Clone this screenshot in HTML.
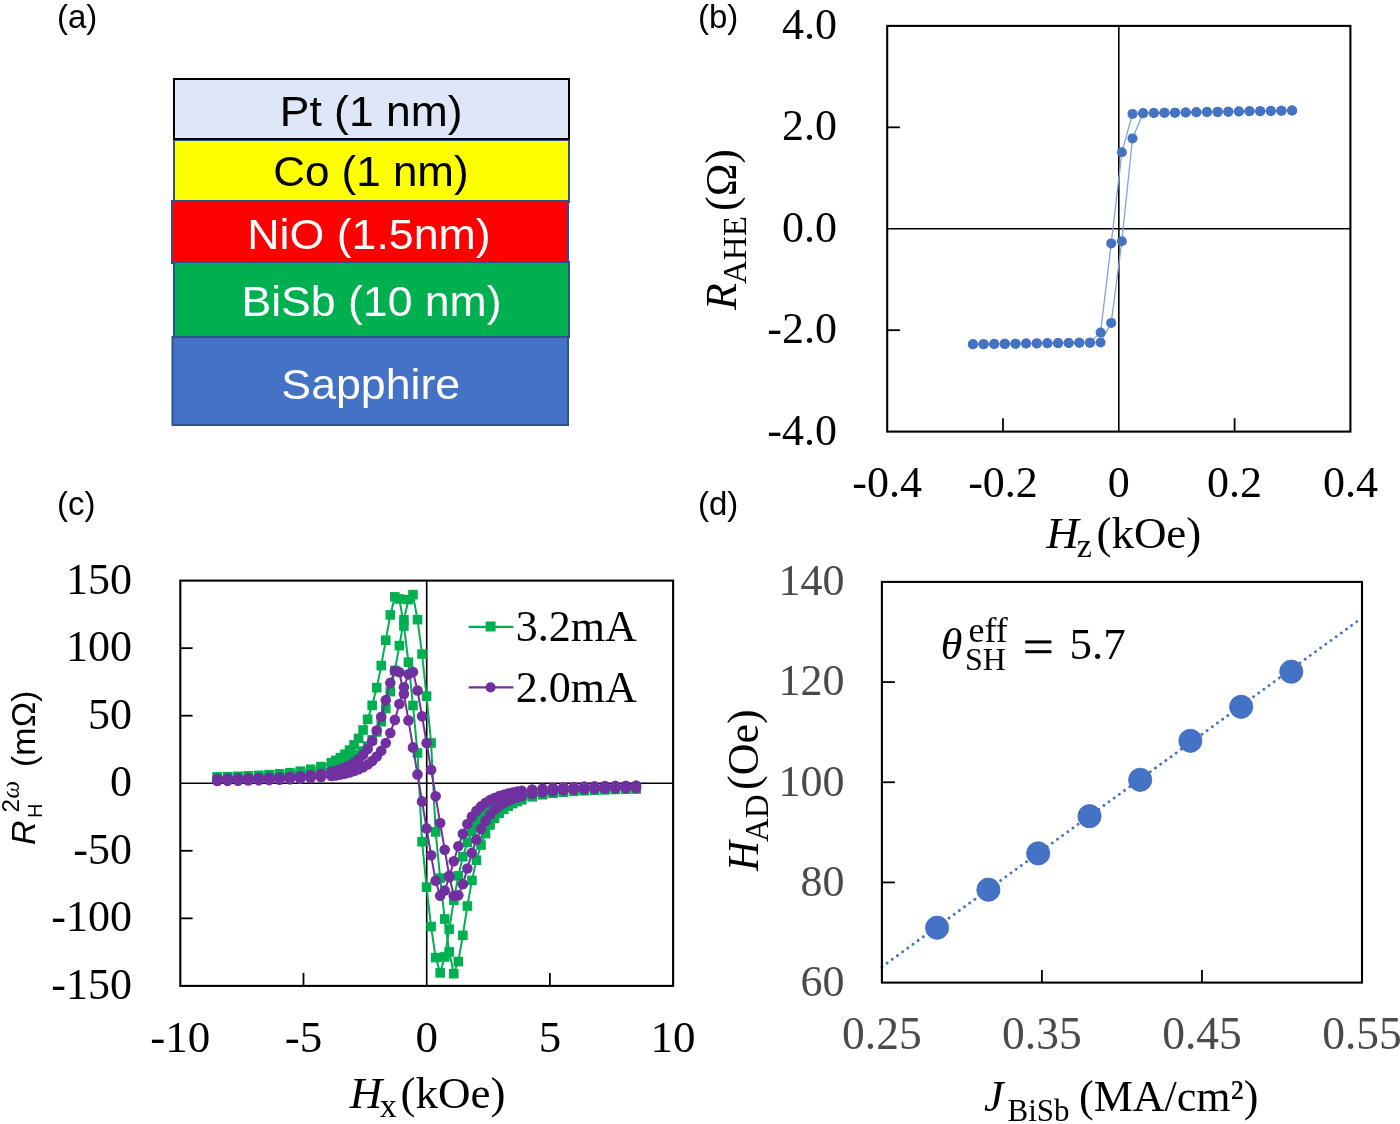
<!DOCTYPE html>
<html><head><meta charset="utf-8"><title>Figure</title>
<style>html,body{margin:0;padding:0;background:#fff;}svg{display:block;will-change:transform;}</style></head>
<body><svg width="1400" height="1124" viewBox="0 0 1400 1124">
<rect width="1400" height="1124" fill="#fff"/>
<text x="57" y="28" font-family='"Liberation Sans", sans-serif' font-size="33" fill="#000">(a)</text>
<rect x="174" y="140" width="395" height="62" fill="#FFFF00" stroke="#2F528F" stroke-width="2"/>
<rect x="172" y="201" width="396" height="62" fill="#FF0000" stroke="#2F528F" stroke-width="2"/>
<rect x="174" y="262" width="395" height="75" fill="#00B050" stroke="#2F528F" stroke-width="2"/>
<rect x="172.5" y="337" width="395.5" height="88" fill="#4472C4" stroke="#2F528F" stroke-width="2"/>
<rect x="174" y="79" width="395" height="60" fill="#DEE7F7" stroke="#000" stroke-width="2"/>
<text transform="translate(371.2,125.5) scale(1.035,1)" text-anchor="middle" font-family='"Liberation Sans", sans-serif' font-size="43" fill="#000">Pt (1 nm)</text>
<text transform="translate(370.9,185.5) scale(1.023,1)" text-anchor="middle" font-family='"Liberation Sans", sans-serif' font-size="43" fill="#000">Co (1 nm)</text>
<text transform="translate(369.0,248.6) scale(1.04,1)" text-anchor="middle" font-family='"Liberation Sans", sans-serif' font-size="43" fill="#fff">NiO (1.5nm)</text>
<text transform="translate(371.5,315.6) scale(1.037,1)" text-anchor="middle" font-family='"Liberation Sans", sans-serif' font-size="43" fill="#fff">BiSb (10 nm)</text>
<text transform="translate(370.75,398.65) scale(1.039,1)" text-anchor="middle" font-family='"Liberation Sans", sans-serif' font-size="43" fill="#fff">Sapphire</text>
<text x="698" y="28" font-family='"Liberation Sans", sans-serif' font-size="33" fill="#000">(b)</text>
<line x1="887.2" y1="228.75" x2="1350.4" y2="228.75" stroke="#000" stroke-width="1.6"/>
<line x1="1118.8" y1="25.9" x2="1118.8" y2="431.6" stroke="#000" stroke-width="1.6"/>
<line x1="887.2" y1="330.18" x2="899.9000000000001" y2="330.18" stroke="#000" stroke-width="1.8"/>
<line x1="887.2" y1="127.32" x2="899.9000000000001" y2="127.32" stroke="#000" stroke-width="1.8"/>
<line x1="1003" y1="431.6" x2="1003" y2="418.20000000000005" stroke="#000" stroke-width="1.8"/>
<line x1="1234.6" y1="431.6" x2="1234.6" y2="418.20000000000005" stroke="#000" stroke-width="1.8"/>
<rect x="887.2" y="25.9" width="463.2" height="405.7" fill="none" stroke="#000" stroke-width="2.1"/>
<text x="837" y="39" text-anchor="end" font-family='"Liberation Serif", serif' font-size="44" fill="#000">4.0</text>
<text x="837" y="140.42" text-anchor="end" font-family='"Liberation Serif", serif' font-size="44" fill="#000">2.0</text>
<text x="837" y="241.85" text-anchor="end" font-family='"Liberation Serif", serif' font-size="44" fill="#000">0.0</text>
<text x="837" y="343.28" text-anchor="end" font-family='"Liberation Serif", serif' font-size="44" fill="#000">-2.0</text>
<text x="837" y="444.7" text-anchor="end" font-family='"Liberation Serif", serif' font-size="44" fill="#000">-4.0</text>
<text x="887.2" y="496.9" text-anchor="middle" font-family='"Liberation Serif", serif' font-size="44" fill="#000">-0.4</text>
<text x="1003" y="496.9" text-anchor="middle" font-family='"Liberation Serif", serif' font-size="44" fill="#000">-0.2</text>
<text x="1118.8" y="496.9" text-anchor="middle" font-family='"Liberation Serif", serif' font-size="44" fill="#000">0</text>
<text x="1234.6" y="496.9" text-anchor="middle" font-family='"Liberation Serif", serif' font-size="44" fill="#000">0.2</text>
<text x="1350.4" y="496.9" text-anchor="middle" font-family='"Liberation Serif", serif' font-size="44" fill="#000">0.4</text>
<text y="548.2" font-family='"Liberation Serif", serif' font-size="45" fill="#000"><tspan x="1046.2" font-style="italic">H</tspan><tspan x="1076.7" dy="9" font-size="34">z</tspan><tspan x="1096.4" dy="-9">(kOe)</tspan></text>
<g transform="translate(736,310) rotate(-90)"><text y="0" font-family='"Liberation Serif", serif' font-size="44" fill="#000"><tspan x="0" font-style="italic">R</tspan><tspan x="26" dy="10" font-size="33">AHE</tspan><tspan x="99" dy="-10">(Ω)</tspan></text></g>
<polyline points="972.9,344.3 983.54,344.15 994.18,344 1004.82,343.85 1015.46,343.7 1026.1,343.55 1036.74,343.4 1047.38,343.25 1058.02,343.1 1068.66,342.95 1079.3,342.8 1089.94,342.65 1100.58,342.5 1111.22,322.9 1121.86,241.2 1132.5,138.4 1143.14,113.2 1153.78,113.01 1164.42,112.82 1175.06,112.63 1185.7,112.44 1196.34,112.26 1206.98,112.07 1217.62,111.88 1228.26,111.69 1238.9,111.5 1249.54,111.31 1260.18,111.13 1270.82,110.94 1281.46,110.75 1292.1,110.56" fill="none" stroke="#7FA3E0" stroke-width="1.3"/>
<polyline points="972.9,344.3 983.54,344.15 994.18,344 1004.82,343.85 1015.46,343.7 1026.1,343.55 1036.74,343.4 1047.38,343.25 1058.02,343.1 1068.66,342.95 1079.3,342.8 1089.94,342.65 1100.58,332.5 1111.22,243.4 1121.86,152.3 1132.5,113.9 1143.14,113.2 1153.78,113.01 1164.42,112.82 1175.06,112.63 1185.7,112.44 1196.34,112.26 1206.98,112.07 1217.62,111.88 1228.26,111.69 1238.9,111.5 1249.54,111.31 1260.18,111.13 1270.82,110.94 1281.46,110.75 1292.1,110.56" fill="none" stroke="#7FA3E0" stroke-width="1.3"/>
<circle cx="972.9" cy="344.3" r="5" fill="#4472C4"/>
<circle cx="983.54" cy="344.15" r="5" fill="#4472C4"/>
<circle cx="994.18" cy="344" r="5" fill="#4472C4"/>
<circle cx="1004.82" cy="343.85" r="5" fill="#4472C4"/>
<circle cx="1015.46" cy="343.7" r="5" fill="#4472C4"/>
<circle cx="1026.1" cy="343.55" r="5" fill="#4472C4"/>
<circle cx="1036.74" cy="343.4" r="5" fill="#4472C4"/>
<circle cx="1047.38" cy="343.25" r="5" fill="#4472C4"/>
<circle cx="1058.02" cy="343.1" r="5" fill="#4472C4"/>
<circle cx="1068.66" cy="342.95" r="5" fill="#4472C4"/>
<circle cx="1079.3" cy="342.8" r="5" fill="#4472C4"/>
<circle cx="1089.94" cy="342.65" r="5" fill="#4472C4"/>
<circle cx="1100.58" cy="342.5" r="5" fill="#4472C4"/>
<circle cx="1111.22" cy="322.9" r="5" fill="#4472C4"/>
<circle cx="1121.86" cy="241.2" r="5" fill="#4472C4"/>
<circle cx="1132.5" cy="138.4" r="5" fill="#4472C4"/>
<circle cx="1143.14" cy="113.2" r="5" fill="#4472C4"/>
<circle cx="1153.78" cy="113.01" r="5" fill="#4472C4"/>
<circle cx="1164.42" cy="112.82" r="5" fill="#4472C4"/>
<circle cx="1175.06" cy="112.63" r="5" fill="#4472C4"/>
<circle cx="1185.7" cy="112.44" r="5" fill="#4472C4"/>
<circle cx="1196.34" cy="112.26" r="5" fill="#4472C4"/>
<circle cx="1206.98" cy="112.07" r="5" fill="#4472C4"/>
<circle cx="1217.62" cy="111.88" r="5" fill="#4472C4"/>
<circle cx="1228.26" cy="111.69" r="5" fill="#4472C4"/>
<circle cx="1238.9" cy="111.5" r="5" fill="#4472C4"/>
<circle cx="1249.54" cy="111.31" r="5" fill="#4472C4"/>
<circle cx="1260.18" cy="111.13" r="5" fill="#4472C4"/>
<circle cx="1270.82" cy="110.94" r="5" fill="#4472C4"/>
<circle cx="1281.46" cy="110.75" r="5" fill="#4472C4"/>
<circle cx="1292.1" cy="110.56" r="5" fill="#4472C4"/>
<circle cx="972.9" cy="344.3" r="5" fill="#4472C4"/>
<circle cx="983.54" cy="344.15" r="5" fill="#4472C4"/>
<circle cx="994.18" cy="344" r="5" fill="#4472C4"/>
<circle cx="1004.82" cy="343.85" r="5" fill="#4472C4"/>
<circle cx="1015.46" cy="343.7" r="5" fill="#4472C4"/>
<circle cx="1026.1" cy="343.55" r="5" fill="#4472C4"/>
<circle cx="1036.74" cy="343.4" r="5" fill="#4472C4"/>
<circle cx="1047.38" cy="343.25" r="5" fill="#4472C4"/>
<circle cx="1058.02" cy="343.1" r="5" fill="#4472C4"/>
<circle cx="1068.66" cy="342.95" r="5" fill="#4472C4"/>
<circle cx="1079.3" cy="342.8" r="5" fill="#4472C4"/>
<circle cx="1089.94" cy="342.65" r="5" fill="#4472C4"/>
<circle cx="1100.58" cy="332.5" r="5" fill="#4472C4"/>
<circle cx="1111.22" cy="243.4" r="5" fill="#4472C4"/>
<circle cx="1121.86" cy="152.3" r="5" fill="#4472C4"/>
<circle cx="1132.5" cy="113.9" r="5" fill="#4472C4"/>
<circle cx="1143.14" cy="113.2" r="5" fill="#4472C4"/>
<circle cx="1153.78" cy="113.01" r="5" fill="#4472C4"/>
<circle cx="1164.42" cy="112.82" r="5" fill="#4472C4"/>
<circle cx="1175.06" cy="112.63" r="5" fill="#4472C4"/>
<circle cx="1185.7" cy="112.44" r="5" fill="#4472C4"/>
<circle cx="1196.34" cy="112.26" r="5" fill="#4472C4"/>
<circle cx="1206.98" cy="112.07" r="5" fill="#4472C4"/>
<circle cx="1217.62" cy="111.88" r="5" fill="#4472C4"/>
<circle cx="1228.26" cy="111.69" r="5" fill="#4472C4"/>
<circle cx="1238.9" cy="111.5" r="5" fill="#4472C4"/>
<circle cx="1249.54" cy="111.31" r="5" fill="#4472C4"/>
<circle cx="1260.18" cy="111.13" r="5" fill="#4472C4"/>
<circle cx="1270.82" cy="110.94" r="5" fill="#4472C4"/>
<circle cx="1281.46" cy="110.75" r="5" fill="#4472C4"/>
<circle cx="1292.1" cy="110.56" r="5" fill="#4472C4"/>
<text x="57" y="515" font-family='"Liberation Sans", sans-serif' font-size="33" fill="#000">(c)</text>
<line x1="180.3" y1="783.25" x2="673.1" y2="783.25" stroke="#000" stroke-width="1.6"/>
<line x1="426.7" y1="580.6" x2="426.7" y2="985.9" stroke="#000" stroke-width="1.6"/>
<line x1="180.3" y1="918.35" x2="192.60000000000002" y2="918.35" stroke="#000" stroke-width="1.8"/>
<line x1="180.3" y1="850.8" x2="192.60000000000002" y2="850.8" stroke="#000" stroke-width="1.8"/>
<line x1="180.3" y1="715.7" x2="192.60000000000002" y2="715.7" stroke="#000" stroke-width="1.8"/>
<line x1="180.3" y1="648.15" x2="192.60000000000002" y2="648.15" stroke="#000" stroke-width="1.8"/>
<line x1="303.5" y1="985.9" x2="303.5" y2="972.9" stroke="#000" stroke-width="1.8"/>
<line x1="549.9" y1="985.9" x2="549.9" y2="972.9" stroke="#000" stroke-width="1.8"/>
<polyline points="217.26,776.97 227.63,776.66 238.01,776.29 248.38,775.85 258.75,775.31 269.13,774.64 279.5,773.78 289.87,772.69 300.25,771.25 310.62,769.3 320.99,766.58 331.37,762.65 335.9,760.37 340.44,757.61 344.97,754.25 349.5,750.09 354.04,744.9 358.57,738.35 363.1,729.99 367.64,719.24 372.17,705.36 376.71,687.62 381.24,665.61 385.77,640.18 390.31,614.92 394.84,596.9 399.37,598.98 403.91,626 408.44,662.2 412.98,705.5 417.51,752.97 422.04,841.71 426.58,887.12 431.11,926.56 435.64,957.56 440.18,972.85 444.71,956.92 449.25,929.17 453.78,900.3 458.31,875.79 462.85,856.73 467.38,842.36 471.91,831.59 476.45,823.46 480.98,817.24 485.52,812.41 490.05,808.61 494.58,805.58 499.12,803.13 503.65,801.12 508.18,799.46 512.72,798.07 517.25,796.9 521.79,795.9 532.18,794.11 542.58,792.81 552.97,791.83 563.37,791.09 573.76,790.5 584.16,790.03 594.56,789.65 604.95,789.34 615.35,789.09 625.74,788.87 636.14,788.68" fill="none" stroke="#00B050" stroke-width="2"/>
<polyline points="217.26,777.32 227.63,777.08 238.01,776.79 248.38,776.45 258.75,776.04 269.13,775.54 279.5,774.92 289.87,774.15 300.25,773.16 310.62,771.88 320.99,770.15 331.37,767.79 335.9,766.46 340.44,764.91 344.97,763.07 349.5,760.88 354.04,758.23 358.57,755 363.1,751.02 367.64,746.07 372.17,739.84 376.71,731.89 381.24,721.69 385.77,708.52 390.31,691.64 394.84,670.49 399.37,645.59 403.91,619.82 408.44,599.62 412.98,594.65 417.51,619.62 422.04,654.06 426.58,696.11 431.11,742.99 435.64,831.87 440.18,878.14 444.71,919.04 449.25,951.94 453.78,973.68 458.31,961.58 462.85,935.29 467.38,906 471.91,880.4 476.45,860.24 480.98,845 485.52,833.57 490.05,824.96 494.58,818.39 499.12,813.31 503.65,809.33 508.18,806.15 512.72,803.59 517.25,801.5 521.79,799.78 532.18,796.8 542.58,794.75 552.97,793.28 563.37,792.19 573.76,791.36 584.16,790.72 594.56,790.21 604.95,789.8 615.35,789.46 625.74,789.18 636.14,788.95" fill="none" stroke="#00B050" stroke-width="2"/>
<rect x="212.46" y="772.17" width="9.6" height="9.6" fill="#00B050"/>
<rect x="222.83" y="771.86" width="9.6" height="9.6" fill="#00B050"/>
<rect x="233.21" y="771.49" width="9.6" height="9.6" fill="#00B050"/>
<rect x="243.58" y="771.05" width="9.6" height="9.6" fill="#00B050"/>
<rect x="253.95" y="770.51" width="9.6" height="9.6" fill="#00B050"/>
<rect x="264.33" y="769.84" width="9.6" height="9.6" fill="#00B050"/>
<rect x="274.7" y="768.98" width="9.6" height="9.6" fill="#00B050"/>
<rect x="285.07" y="767.89" width="9.6" height="9.6" fill="#00B050"/>
<rect x="295.45" y="766.45" width="9.6" height="9.6" fill="#00B050"/>
<rect x="305.82" y="764.5" width="9.6" height="9.6" fill="#00B050"/>
<rect x="316.19" y="761.78" width="9.6" height="9.6" fill="#00B050"/>
<rect x="326.57" y="757.85" width="9.6" height="9.6" fill="#00B050"/>
<rect x="331.1" y="755.57" width="9.6" height="9.6" fill="#00B050"/>
<rect x="335.64" y="752.81" width="9.6" height="9.6" fill="#00B050"/>
<rect x="340.17" y="749.45" width="9.6" height="9.6" fill="#00B050"/>
<rect x="344.7" y="745.29" width="9.6" height="9.6" fill="#00B050"/>
<rect x="349.24" y="740.1" width="9.6" height="9.6" fill="#00B050"/>
<rect x="353.77" y="733.55" width="9.6" height="9.6" fill="#00B050"/>
<rect x="358.3" y="725.19" width="9.6" height="9.6" fill="#00B050"/>
<rect x="362.84" y="714.44" width="9.6" height="9.6" fill="#00B050"/>
<rect x="367.37" y="700.56" width="9.6" height="9.6" fill="#00B050"/>
<rect x="371.91" y="682.82" width="9.6" height="9.6" fill="#00B050"/>
<rect x="376.44" y="660.81" width="9.6" height="9.6" fill="#00B050"/>
<rect x="380.97" y="635.38" width="9.6" height="9.6" fill="#00B050"/>
<rect x="385.51" y="610.12" width="9.6" height="9.6" fill="#00B050"/>
<rect x="390.04" y="592.1" width="9.6" height="9.6" fill="#00B050"/>
<rect x="394.57" y="594.18" width="9.6" height="9.6" fill="#00B050"/>
<rect x="399.11" y="621.2" width="9.6" height="9.6" fill="#00B050"/>
<rect x="403.64" y="657.4" width="9.6" height="9.6" fill="#00B050"/>
<rect x="408.18" y="700.7" width="9.6" height="9.6" fill="#00B050"/>
<rect x="412.71" y="748.17" width="9.6" height="9.6" fill="#00B050"/>
<rect x="417.24" y="836.91" width="9.6" height="9.6" fill="#00B050"/>
<rect x="421.78" y="882.32" width="9.6" height="9.6" fill="#00B050"/>
<rect x="426.31" y="921.76" width="9.6" height="9.6" fill="#00B050"/>
<rect x="430.84" y="952.76" width="9.6" height="9.6" fill="#00B050"/>
<rect x="435.38" y="968.05" width="9.6" height="9.6" fill="#00B050"/>
<rect x="439.91" y="952.12" width="9.6" height="9.6" fill="#00B050"/>
<rect x="444.45" y="924.37" width="9.6" height="9.6" fill="#00B050"/>
<rect x="448.98" y="895.5" width="9.6" height="9.6" fill="#00B050"/>
<rect x="453.51" y="870.99" width="9.6" height="9.6" fill="#00B050"/>
<rect x="458.05" y="851.93" width="9.6" height="9.6" fill="#00B050"/>
<rect x="462.58" y="837.56" width="9.6" height="9.6" fill="#00B050"/>
<rect x="467.11" y="826.79" width="9.6" height="9.6" fill="#00B050"/>
<rect x="471.65" y="818.66" width="9.6" height="9.6" fill="#00B050"/>
<rect x="476.18" y="812.44" width="9.6" height="9.6" fill="#00B050"/>
<rect x="480.72" y="807.61" width="9.6" height="9.6" fill="#00B050"/>
<rect x="485.25" y="803.81" width="9.6" height="9.6" fill="#00B050"/>
<rect x="489.78" y="800.78" width="9.6" height="9.6" fill="#00B050"/>
<rect x="494.32" y="798.33" width="9.6" height="9.6" fill="#00B050"/>
<rect x="498.85" y="796.32" width="9.6" height="9.6" fill="#00B050"/>
<rect x="503.38" y="794.66" width="9.6" height="9.6" fill="#00B050"/>
<rect x="507.92" y="793.27" width="9.6" height="9.6" fill="#00B050"/>
<rect x="512.45" y="792.1" width="9.6" height="9.6" fill="#00B050"/>
<rect x="516.99" y="791.1" width="9.6" height="9.6" fill="#00B050"/>
<rect x="527.38" y="789.31" width="9.6" height="9.6" fill="#00B050"/>
<rect x="537.78" y="788.01" width="9.6" height="9.6" fill="#00B050"/>
<rect x="548.17" y="787.03" width="9.6" height="9.6" fill="#00B050"/>
<rect x="558.57" y="786.29" width="9.6" height="9.6" fill="#00B050"/>
<rect x="568.96" y="785.7" width="9.6" height="9.6" fill="#00B050"/>
<rect x="579.36" y="785.23" width="9.6" height="9.6" fill="#00B050"/>
<rect x="589.76" y="784.85" width="9.6" height="9.6" fill="#00B050"/>
<rect x="600.15" y="784.54" width="9.6" height="9.6" fill="#00B050"/>
<rect x="610.55" y="784.29" width="9.6" height="9.6" fill="#00B050"/>
<rect x="620.94" y="784.07" width="9.6" height="9.6" fill="#00B050"/>
<rect x="631.34" y="783.88" width="9.6" height="9.6" fill="#00B050"/>
<rect x="212.46" y="772.52" width="9.6" height="9.6" fill="#00B050"/>
<rect x="222.83" y="772.28" width="9.6" height="9.6" fill="#00B050"/>
<rect x="233.21" y="771.99" width="9.6" height="9.6" fill="#00B050"/>
<rect x="243.58" y="771.65" width="9.6" height="9.6" fill="#00B050"/>
<rect x="253.95" y="771.24" width="9.6" height="9.6" fill="#00B050"/>
<rect x="264.33" y="770.74" width="9.6" height="9.6" fill="#00B050"/>
<rect x="274.7" y="770.12" width="9.6" height="9.6" fill="#00B050"/>
<rect x="285.07" y="769.35" width="9.6" height="9.6" fill="#00B050"/>
<rect x="295.45" y="768.36" width="9.6" height="9.6" fill="#00B050"/>
<rect x="305.82" y="767.08" width="9.6" height="9.6" fill="#00B050"/>
<rect x="316.19" y="765.35" width="9.6" height="9.6" fill="#00B050"/>
<rect x="326.57" y="762.99" width="9.6" height="9.6" fill="#00B050"/>
<rect x="331.1" y="761.66" width="9.6" height="9.6" fill="#00B050"/>
<rect x="335.64" y="760.11" width="9.6" height="9.6" fill="#00B050"/>
<rect x="340.17" y="758.27" width="9.6" height="9.6" fill="#00B050"/>
<rect x="344.7" y="756.08" width="9.6" height="9.6" fill="#00B050"/>
<rect x="349.24" y="753.43" width="9.6" height="9.6" fill="#00B050"/>
<rect x="353.77" y="750.2" width="9.6" height="9.6" fill="#00B050"/>
<rect x="358.3" y="746.22" width="9.6" height="9.6" fill="#00B050"/>
<rect x="362.84" y="741.27" width="9.6" height="9.6" fill="#00B050"/>
<rect x="367.37" y="735.04" width="9.6" height="9.6" fill="#00B050"/>
<rect x="371.91" y="727.09" width="9.6" height="9.6" fill="#00B050"/>
<rect x="376.44" y="716.89" width="9.6" height="9.6" fill="#00B050"/>
<rect x="380.97" y="703.72" width="9.6" height="9.6" fill="#00B050"/>
<rect x="385.51" y="686.84" width="9.6" height="9.6" fill="#00B050"/>
<rect x="390.04" y="665.69" width="9.6" height="9.6" fill="#00B050"/>
<rect x="394.57" y="640.79" width="9.6" height="9.6" fill="#00B050"/>
<rect x="399.11" y="615.02" width="9.6" height="9.6" fill="#00B050"/>
<rect x="403.64" y="594.82" width="9.6" height="9.6" fill="#00B050"/>
<rect x="408.18" y="589.85" width="9.6" height="9.6" fill="#00B050"/>
<rect x="412.71" y="614.82" width="9.6" height="9.6" fill="#00B050"/>
<rect x="417.24" y="649.26" width="9.6" height="9.6" fill="#00B050"/>
<rect x="421.78" y="691.31" width="9.6" height="9.6" fill="#00B050"/>
<rect x="426.31" y="738.19" width="9.6" height="9.6" fill="#00B050"/>
<rect x="430.84" y="827.07" width="9.6" height="9.6" fill="#00B050"/>
<rect x="435.38" y="873.34" width="9.6" height="9.6" fill="#00B050"/>
<rect x="439.91" y="914.24" width="9.6" height="9.6" fill="#00B050"/>
<rect x="444.45" y="947.14" width="9.6" height="9.6" fill="#00B050"/>
<rect x="448.98" y="968.88" width="9.6" height="9.6" fill="#00B050"/>
<rect x="453.51" y="956.78" width="9.6" height="9.6" fill="#00B050"/>
<rect x="458.05" y="930.49" width="9.6" height="9.6" fill="#00B050"/>
<rect x="462.58" y="901.2" width="9.6" height="9.6" fill="#00B050"/>
<rect x="467.11" y="875.6" width="9.6" height="9.6" fill="#00B050"/>
<rect x="471.65" y="855.44" width="9.6" height="9.6" fill="#00B050"/>
<rect x="476.18" y="840.2" width="9.6" height="9.6" fill="#00B050"/>
<rect x="480.72" y="828.77" width="9.6" height="9.6" fill="#00B050"/>
<rect x="485.25" y="820.16" width="9.6" height="9.6" fill="#00B050"/>
<rect x="489.78" y="813.59" width="9.6" height="9.6" fill="#00B050"/>
<rect x="494.32" y="808.51" width="9.6" height="9.6" fill="#00B050"/>
<rect x="498.85" y="804.53" width="9.6" height="9.6" fill="#00B050"/>
<rect x="503.38" y="801.35" width="9.6" height="9.6" fill="#00B050"/>
<rect x="507.92" y="798.79" width="9.6" height="9.6" fill="#00B050"/>
<rect x="512.45" y="796.7" width="9.6" height="9.6" fill="#00B050"/>
<rect x="516.99" y="794.98" width="9.6" height="9.6" fill="#00B050"/>
<rect x="527.38" y="792" width="9.6" height="9.6" fill="#00B050"/>
<rect x="537.78" y="789.95" width="9.6" height="9.6" fill="#00B050"/>
<rect x="548.17" y="788.48" width="9.6" height="9.6" fill="#00B050"/>
<rect x="558.57" y="787.39" width="9.6" height="9.6" fill="#00B050"/>
<rect x="568.96" y="786.56" width="9.6" height="9.6" fill="#00B050"/>
<rect x="579.36" y="785.92" width="9.6" height="9.6" fill="#00B050"/>
<rect x="589.76" y="785.41" width="9.6" height="9.6" fill="#00B050"/>
<rect x="600.15" y="785" width="9.6" height="9.6" fill="#00B050"/>
<rect x="610.55" y="784.66" width="9.6" height="9.6" fill="#00B050"/>
<rect x="620.94" y="784.38" width="9.6" height="9.6" fill="#00B050"/>
<rect x="631.34" y="784.15" width="9.6" height="9.6" fill="#00B050"/>
<polyline points="217.26,778.74 227.63,778.6 238.01,778.42 248.38,778.21 258.75,777.96 269.13,777.64 279.5,777.23 289.87,776.71 300.25,776.01 310.62,775.07 320.99,773.75 331.37,771.82 335.9,770.68 340.44,769.3 344.97,767.6 349.5,765.48 354.04,762.79 358.57,759.34 363.1,754.85 367.64,748.92 372.17,741.02 376.71,730.5 381.24,716.81 385.77,700.14 390.31,682.89 394.84,670.74 399.37,672.27 403.91,693.93 408.44,720.41 412.98,747.39 417.51,774.39 422.04,801.39 426.58,828.39 431.11,855.3 435.64,880.79 440.18,895.65 444.71,890.49 449.25,877.26 453.78,861.23 458.31,846.26 462.85,833.85 467.38,824.12 471.91,816.62 476.45,810.86 480.98,806.4 485.52,802.92 490.05,800.16 494.58,797.95 499.12,796.16 503.65,794.69 508.18,793.48 512.72,792.46 517.25,791.6 521.79,790.87 532.18,789.56 542.58,788.61 552.97,787.9 563.37,787.36 573.76,786.93 584.16,786.59 594.56,786.31 604.95,786.09 615.35,785.9 625.74,785.74 636.14,785.61" fill="none" stroke="#7030A0" stroke-width="2"/>
<polyline points="217.26,780.99 227.63,780.86 238.01,780.72 248.38,780.55 258.75,780.34 269.13,780.08 279.5,779.77 289.87,779.37 300.25,778.86 310.62,778.2 320.99,777.3 331.37,776.07 335.9,775.38 340.44,774.56 344.97,773.59 349.5,772.43 354.04,771.02 358.57,769.28 363.1,767.13 367.64,764.43 372.17,760.98 376.71,756.53 381.24,750.71 385.77,743.04 390.31,732.94 394.84,719.91 399.37,704.06 403.91,687.3 408.44,674.37 412.98,671.94 417.51,690.56 422.04,716.34 426.58,742.98 431.11,769.68 435.64,796.37 440.18,823.07 444.71,849.73 449.25,875.7 453.78,895.72 458.31,895.37 462.85,884.14 467.38,868.46 471.91,852.89 476.45,839.63 480.98,829.08 485.52,820.94 490.05,814.68 494.58,809.85 499.12,806.09 503.65,803.12 508.18,800.76 512.72,798.85 517.25,797.29 521.79,796 532.18,793.78 542.58,792.26 552.97,791.16 563.37,790.36 573.76,789.74 584.16,789.27 594.56,788.89 604.95,788.59 615.35,788.34 625.74,788.14 636.14,787.97" fill="none" stroke="#7030A0" stroke-width="2"/>
<circle cx="217.26" cy="778.74" r="5.3" fill="#7030A0"/>
<circle cx="227.63" cy="778.6" r="5.3" fill="#7030A0"/>
<circle cx="238.01" cy="778.42" r="5.3" fill="#7030A0"/>
<circle cx="248.38" cy="778.21" r="5.3" fill="#7030A0"/>
<circle cx="258.75" cy="777.96" r="5.3" fill="#7030A0"/>
<circle cx="269.13" cy="777.64" r="5.3" fill="#7030A0"/>
<circle cx="279.5" cy="777.23" r="5.3" fill="#7030A0"/>
<circle cx="289.87" cy="776.71" r="5.3" fill="#7030A0"/>
<circle cx="300.25" cy="776.01" r="5.3" fill="#7030A0"/>
<circle cx="310.62" cy="775.07" r="5.3" fill="#7030A0"/>
<circle cx="320.99" cy="773.75" r="5.3" fill="#7030A0"/>
<circle cx="331.37" cy="771.82" r="5.3" fill="#7030A0"/>
<circle cx="335.9" cy="770.68" r="5.3" fill="#7030A0"/>
<circle cx="340.44" cy="769.3" r="5.3" fill="#7030A0"/>
<circle cx="344.97" cy="767.6" r="5.3" fill="#7030A0"/>
<circle cx="349.5" cy="765.48" r="5.3" fill="#7030A0"/>
<circle cx="354.04" cy="762.79" r="5.3" fill="#7030A0"/>
<circle cx="358.57" cy="759.34" r="5.3" fill="#7030A0"/>
<circle cx="363.1" cy="754.85" r="5.3" fill="#7030A0"/>
<circle cx="367.64" cy="748.92" r="5.3" fill="#7030A0"/>
<circle cx="372.17" cy="741.02" r="5.3" fill="#7030A0"/>
<circle cx="376.71" cy="730.5" r="5.3" fill="#7030A0"/>
<circle cx="381.24" cy="716.81" r="5.3" fill="#7030A0"/>
<circle cx="385.77" cy="700.14" r="5.3" fill="#7030A0"/>
<circle cx="390.31" cy="682.89" r="5.3" fill="#7030A0"/>
<circle cx="394.84" cy="670.74" r="5.3" fill="#7030A0"/>
<circle cx="399.37" cy="672.27" r="5.3" fill="#7030A0"/>
<circle cx="403.91" cy="693.93" r="5.3" fill="#7030A0"/>
<circle cx="408.44" cy="720.41" r="5.3" fill="#7030A0"/>
<circle cx="412.98" cy="747.39" r="5.3" fill="#7030A0"/>
<circle cx="417.51" cy="774.39" r="5.3" fill="#7030A0"/>
<circle cx="422.04" cy="801.39" r="5.3" fill="#7030A0"/>
<circle cx="426.58" cy="828.39" r="5.3" fill="#7030A0"/>
<circle cx="431.11" cy="855.3" r="5.3" fill="#7030A0"/>
<circle cx="435.64" cy="880.79" r="5.3" fill="#7030A0"/>
<circle cx="440.18" cy="895.65" r="5.3" fill="#7030A0"/>
<circle cx="444.71" cy="890.49" r="5.3" fill="#7030A0"/>
<circle cx="449.25" cy="877.26" r="5.3" fill="#7030A0"/>
<circle cx="453.78" cy="861.23" r="5.3" fill="#7030A0"/>
<circle cx="458.31" cy="846.26" r="5.3" fill="#7030A0"/>
<circle cx="462.85" cy="833.85" r="5.3" fill="#7030A0"/>
<circle cx="467.38" cy="824.12" r="5.3" fill="#7030A0"/>
<circle cx="471.91" cy="816.62" r="5.3" fill="#7030A0"/>
<circle cx="476.45" cy="810.86" r="5.3" fill="#7030A0"/>
<circle cx="480.98" cy="806.4" r="5.3" fill="#7030A0"/>
<circle cx="485.52" cy="802.92" r="5.3" fill="#7030A0"/>
<circle cx="490.05" cy="800.16" r="5.3" fill="#7030A0"/>
<circle cx="494.58" cy="797.95" r="5.3" fill="#7030A0"/>
<circle cx="499.12" cy="796.16" r="5.3" fill="#7030A0"/>
<circle cx="503.65" cy="794.69" r="5.3" fill="#7030A0"/>
<circle cx="508.18" cy="793.48" r="5.3" fill="#7030A0"/>
<circle cx="512.72" cy="792.46" r="5.3" fill="#7030A0"/>
<circle cx="517.25" cy="791.6" r="5.3" fill="#7030A0"/>
<circle cx="521.79" cy="790.87" r="5.3" fill="#7030A0"/>
<circle cx="532.18" cy="789.56" r="5.3" fill="#7030A0"/>
<circle cx="542.58" cy="788.61" r="5.3" fill="#7030A0"/>
<circle cx="552.97" cy="787.9" r="5.3" fill="#7030A0"/>
<circle cx="563.37" cy="787.36" r="5.3" fill="#7030A0"/>
<circle cx="573.76" cy="786.93" r="5.3" fill="#7030A0"/>
<circle cx="584.16" cy="786.59" r="5.3" fill="#7030A0"/>
<circle cx="594.56" cy="786.31" r="5.3" fill="#7030A0"/>
<circle cx="604.95" cy="786.09" r="5.3" fill="#7030A0"/>
<circle cx="615.35" cy="785.9" r="5.3" fill="#7030A0"/>
<circle cx="625.74" cy="785.74" r="5.3" fill="#7030A0"/>
<circle cx="636.14" cy="785.61" r="5.3" fill="#7030A0"/>
<circle cx="217.26" cy="780.99" r="5.3" fill="#7030A0"/>
<circle cx="227.63" cy="780.86" r="5.3" fill="#7030A0"/>
<circle cx="238.01" cy="780.72" r="5.3" fill="#7030A0"/>
<circle cx="248.38" cy="780.55" r="5.3" fill="#7030A0"/>
<circle cx="258.75" cy="780.34" r="5.3" fill="#7030A0"/>
<circle cx="269.13" cy="780.08" r="5.3" fill="#7030A0"/>
<circle cx="279.5" cy="779.77" r="5.3" fill="#7030A0"/>
<circle cx="289.87" cy="779.37" r="5.3" fill="#7030A0"/>
<circle cx="300.25" cy="778.86" r="5.3" fill="#7030A0"/>
<circle cx="310.62" cy="778.2" r="5.3" fill="#7030A0"/>
<circle cx="320.99" cy="777.3" r="5.3" fill="#7030A0"/>
<circle cx="331.37" cy="776.07" r="5.3" fill="#7030A0"/>
<circle cx="335.9" cy="775.38" r="5.3" fill="#7030A0"/>
<circle cx="340.44" cy="774.56" r="5.3" fill="#7030A0"/>
<circle cx="344.97" cy="773.59" r="5.3" fill="#7030A0"/>
<circle cx="349.5" cy="772.43" r="5.3" fill="#7030A0"/>
<circle cx="354.04" cy="771.02" r="5.3" fill="#7030A0"/>
<circle cx="358.57" cy="769.28" r="5.3" fill="#7030A0"/>
<circle cx="363.1" cy="767.13" r="5.3" fill="#7030A0"/>
<circle cx="367.64" cy="764.43" r="5.3" fill="#7030A0"/>
<circle cx="372.17" cy="760.98" r="5.3" fill="#7030A0"/>
<circle cx="376.71" cy="756.53" r="5.3" fill="#7030A0"/>
<circle cx="381.24" cy="750.71" r="5.3" fill="#7030A0"/>
<circle cx="385.77" cy="743.04" r="5.3" fill="#7030A0"/>
<circle cx="390.31" cy="732.94" r="5.3" fill="#7030A0"/>
<circle cx="394.84" cy="719.91" r="5.3" fill="#7030A0"/>
<circle cx="399.37" cy="704.06" r="5.3" fill="#7030A0"/>
<circle cx="403.91" cy="687.3" r="5.3" fill="#7030A0"/>
<circle cx="408.44" cy="674.37" r="5.3" fill="#7030A0"/>
<circle cx="412.98" cy="671.94" r="5.3" fill="#7030A0"/>
<circle cx="417.51" cy="690.56" r="5.3" fill="#7030A0"/>
<circle cx="422.04" cy="716.34" r="5.3" fill="#7030A0"/>
<circle cx="426.58" cy="742.98" r="5.3" fill="#7030A0"/>
<circle cx="431.11" cy="769.68" r="5.3" fill="#7030A0"/>
<circle cx="435.64" cy="796.37" r="5.3" fill="#7030A0"/>
<circle cx="440.18" cy="823.07" r="5.3" fill="#7030A0"/>
<circle cx="444.71" cy="849.73" r="5.3" fill="#7030A0"/>
<circle cx="449.25" cy="875.7" r="5.3" fill="#7030A0"/>
<circle cx="453.78" cy="895.72" r="5.3" fill="#7030A0"/>
<circle cx="458.31" cy="895.37" r="5.3" fill="#7030A0"/>
<circle cx="462.85" cy="884.14" r="5.3" fill="#7030A0"/>
<circle cx="467.38" cy="868.46" r="5.3" fill="#7030A0"/>
<circle cx="471.91" cy="852.89" r="5.3" fill="#7030A0"/>
<circle cx="476.45" cy="839.63" r="5.3" fill="#7030A0"/>
<circle cx="480.98" cy="829.08" r="5.3" fill="#7030A0"/>
<circle cx="485.52" cy="820.94" r="5.3" fill="#7030A0"/>
<circle cx="490.05" cy="814.68" r="5.3" fill="#7030A0"/>
<circle cx="494.58" cy="809.85" r="5.3" fill="#7030A0"/>
<circle cx="499.12" cy="806.09" r="5.3" fill="#7030A0"/>
<circle cx="503.65" cy="803.12" r="5.3" fill="#7030A0"/>
<circle cx="508.18" cy="800.76" r="5.3" fill="#7030A0"/>
<circle cx="512.72" cy="798.85" r="5.3" fill="#7030A0"/>
<circle cx="517.25" cy="797.29" r="5.3" fill="#7030A0"/>
<circle cx="521.79" cy="796" r="5.3" fill="#7030A0"/>
<circle cx="532.18" cy="793.78" r="5.3" fill="#7030A0"/>
<circle cx="542.58" cy="792.26" r="5.3" fill="#7030A0"/>
<circle cx="552.97" cy="791.16" r="5.3" fill="#7030A0"/>
<circle cx="563.37" cy="790.36" r="5.3" fill="#7030A0"/>
<circle cx="573.76" cy="789.74" r="5.3" fill="#7030A0"/>
<circle cx="584.16" cy="789.27" r="5.3" fill="#7030A0"/>
<circle cx="594.56" cy="788.89" r="5.3" fill="#7030A0"/>
<circle cx="604.95" cy="788.59" r="5.3" fill="#7030A0"/>
<circle cx="615.35" cy="788.34" r="5.3" fill="#7030A0"/>
<circle cx="625.74" cy="788.14" r="5.3" fill="#7030A0"/>
<circle cx="636.14" cy="787.97" r="5.3" fill="#7030A0"/>
<rect x="180.3" y="580.6" width="492.8" height="405.3" fill="none" stroke="#000" stroke-width="2.1"/>
<text x="132" y="593.7" text-anchor="end" font-family='"Liberation Serif", serif' font-size="44" fill="#000">150</text>
<text x="132" y="661.25" text-anchor="end" font-family='"Liberation Serif", serif' font-size="44" fill="#000">100</text>
<text x="132" y="728.8" text-anchor="end" font-family='"Liberation Serif", serif' font-size="44" fill="#000">50</text>
<text x="132" y="796.35" text-anchor="end" font-family='"Liberation Serif", serif' font-size="44" fill="#000">0</text>
<text x="132" y="863.9" text-anchor="end" font-family='"Liberation Serif", serif' font-size="44" fill="#000">-50</text>
<text x="132" y="931.45" text-anchor="end" font-family='"Liberation Serif", serif' font-size="44" fill="#000">-100</text>
<text x="132" y="999" text-anchor="end" font-family='"Liberation Serif", serif' font-size="44" fill="#000">-150</text>
<text x="180.3" y="1051.8" text-anchor="middle" font-family='"Liberation Serif", serif' font-size="45" fill="#000">-10</text>
<text x="303.5" y="1051.8" text-anchor="middle" font-family='"Liberation Serif", serif' font-size="45" fill="#000">-5</text>
<text x="426.7" y="1051.8" text-anchor="middle" font-family='"Liberation Serif", serif' font-size="45" fill="#000">0</text>
<text x="549.9" y="1051.8" text-anchor="middle" font-family='"Liberation Serif", serif' font-size="45" fill="#000">5</text>
<text x="673.1" y="1051.8" text-anchor="middle" font-family='"Liberation Serif", serif' font-size="45" fill="#000">10</text>
<line x1="468.6" y1="626.9" x2="513.4" y2="626.9" stroke="#00B050" stroke-width="2.2"/>
<rect x="485.6" y="621.5" width="10" height="10" fill="#00B050"/>
<text x="515.8" y="640.7" font-family='"Liberation Serif", serif' font-size="44" fill="#000">3.2mA</text>
<line x1="468.6" y1="687.3" x2="513.4" y2="687.3" stroke="#7030A0" stroke-width="2.2"/>
<circle cx="490.6" cy="687.3" r="5.1" fill="#7030A0"/>
<text x="515.8" y="701.8" font-family='"Liberation Serif", serif' font-size="44" fill="#000">2.0mA</text>
<text y="1108.2" font-family='"Liberation Serif", serif' font-size="45" fill="#000"><tspan x="349.7" font-style="italic">H</tspan><tspan x="379.7" dy="9" font-size="34">x</tspan><tspan x="400.6" dy="-9">(kOe)</tspan></text>
<g transform="translate(35,843) rotate(-90)"><text y="0" font-family='"Liberation Sans", sans-serif' font-size="34" fill="#000"><tspan x="-2" font-style="italic">R</tspan><tspan x="25" dy="7" font-size="20">H</tspan><tspan x="30.5" dy="-23" font-size="24">2</tspan><tspan x="44.5" font-size="25" font-family='"Liberation Serif", serif' font-style="italic">ω</tspan><tspan x="76" dy="16">(mΩ)</tspan></text></g>
<text x="698" y="515" font-family='"Liberation Sans", sans-serif' font-size="33" fill="#000">(d)</text>
<line x1="881.9" y1="882.42" x2="894.9" y2="882.42" stroke="#000" stroke-width="1.8"/>
<line x1="881.9" y1="782.25" x2="894.9" y2="782.25" stroke="#000" stroke-width="1.8"/>
<line x1="881.9" y1="682.08" x2="894.9" y2="682.08" stroke="#000" stroke-width="1.8"/>
<line x1="1041.93" y1="982.6" x2="1041.93" y2="970.1" stroke="#000" stroke-width="1.8"/>
<line x1="1201.97" y1="982.6" x2="1201.97" y2="970.1" stroke="#000" stroke-width="1.8"/>
<line x1="882" y1="966.8" x2="1361.3" y2="618.4" stroke="#4472C4" stroke-width="2.9" stroke-dasharray="0.01 6.37" stroke-linecap="round"/>
<circle cx="937.1" cy="927.7" r="11.6" fill="#4472C4" stroke="#3F6BC0" stroke-width="0.8"/>
<circle cx="988.4" cy="889.7" r="11.6" fill="#4472C4" stroke="#3F6BC0" stroke-width="0.8"/>
<circle cx="1038.2" cy="853.4" r="11.6" fill="#4472C4" stroke="#3F6BC0" stroke-width="0.8"/>
<circle cx="1089.5" cy="816.2" r="11.6" fill="#4472C4" stroke="#3F6BC0" stroke-width="0.8"/>
<circle cx="1140.2" cy="779.8" r="11.6" fill="#4472C4" stroke="#3F6BC0" stroke-width="0.8"/>
<circle cx="1190.4" cy="740.8" r="11.6" fill="#4472C4" stroke="#3F6BC0" stroke-width="0.8"/>
<circle cx="1241.2" cy="706.8" r="11.6" fill="#4472C4" stroke="#3F6BC0" stroke-width="0.8"/>
<circle cx="1291.3" cy="671.7" r="11.6" fill="#4472C4" stroke="#3F6BC0" stroke-width="0.8"/>
<rect x="881.9" y="581.9" width="480.1" height="400.7" fill="none" stroke="#000" stroke-width="2.1"/>
<text x="844.5" y="995.9" text-anchor="end" font-family='"Liberation Serif", serif' font-size="44" fill="#4a4a4a">60</text>
<text x="844.5" y="895.72" text-anchor="end" font-family='"Liberation Serif", serif' font-size="44" fill="#4a4a4a">80</text>
<text x="844.5" y="795.55" text-anchor="end" font-family='"Liberation Serif", serif' font-size="44" fill="#4a4a4a">100</text>
<text x="844.5" y="695.38" text-anchor="end" font-family='"Liberation Serif", serif' font-size="44" fill="#4a4a4a">120</text>
<text x="844.5" y="595.2" text-anchor="end" font-family='"Liberation Serif", serif' font-size="44" fill="#4a4a4a">140</text>
<text x="881.9" y="1049.2" text-anchor="middle" font-family='"Liberation Serif", serif' font-size="45.5" fill="#4a4a4a">0.25</text>
<text x="1041.93" y="1049.2" text-anchor="middle" font-family='"Liberation Serif", serif' font-size="45.5" fill="#4a4a4a">0.35</text>
<text x="1201.97" y="1049.2" text-anchor="middle" font-family='"Liberation Serif", serif' font-size="45.5" fill="#4a4a4a">0.45</text>
<text x="1362" y="1049.2" text-anchor="middle" font-family='"Liberation Serif", serif' font-size="45.5" fill="#4a4a4a">0.55</text>
<text y="659.3" font-family='"Liberation Serif", serif' font-size="44" fill="#000"><tspan x="940.8" font-style="italic">θ</tspan><tspan x="968.5" dy="-17.8" font-size="36">eff</tspan><tspan x="965" dy="28.8" font-size="32">SH</tspan><tspan x="1069.4" dy="-11" font-size="45">5.7</tspan></text>
<rect x="1025.3" y="640.4" width="26.1" height="3" fill="#000"/><rect x="1025.3" y="650.2" width="26.1" height="3" fill="#000"/>
<text y="1111" font-family='"Liberation Serif", serif' font-size="44" fill="#000"><tspan x="984" font-style="italic">J</tspan><tspan x="1007.5" dy="10" font-size="31">BiSb</tspan><tspan x="1079" dy="-10">(MA/cm²)</tspan></text>
<g transform="translate(758,871) rotate(-90)"><text y="0" font-family='"Liberation Serif", serif' font-size="44" fill="#000"><tspan x="0" font-style="italic" textLength="30" lengthAdjust="spacingAndGlyphs">H</tspan><tspan x="29" dy="10" font-size="33">AD</tspan><tspan x="81" dy="-10">(Oe)</tspan></text></g>
</svg></body></html>
